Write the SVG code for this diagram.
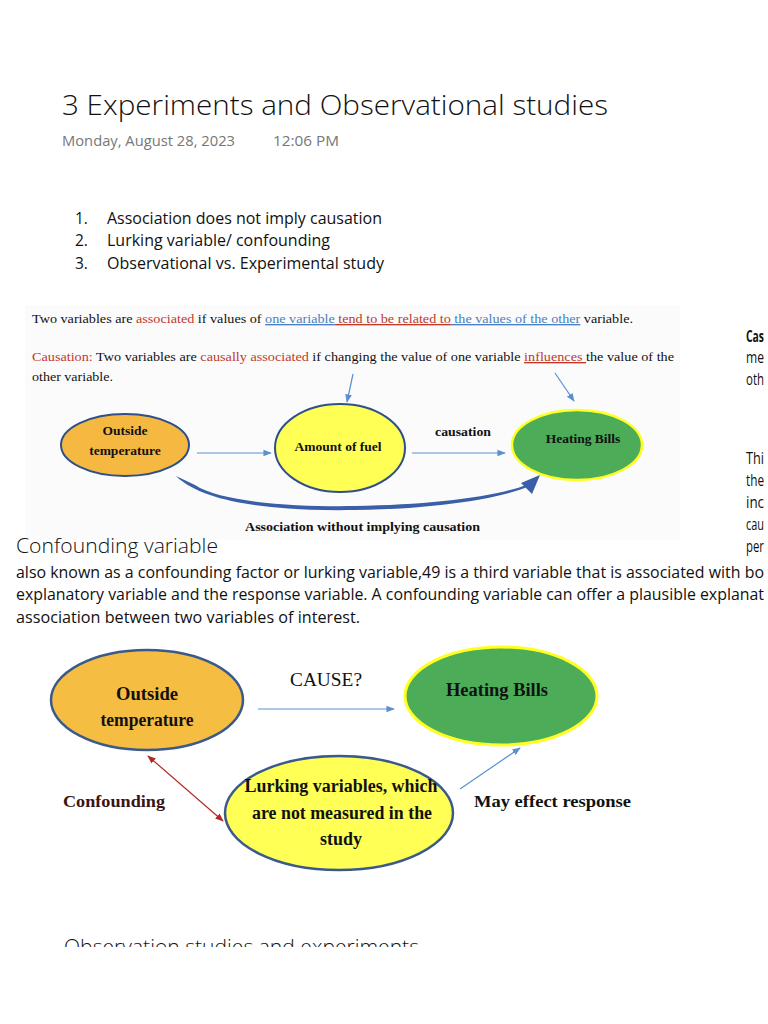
<svg xmlns="http://www.w3.org/2000/svg" width="768" height="1024" viewBox="0 0 768 1024">
<style>
.cal{font-family:"Open Sans","Noto Sans","Liberation Sans",sans-serif;fill:#111}
.tnr{font-family:"Liberation Serif","Times New Roman",serif;fill:#111}
.b{font-weight:bold}
.red{fill:#c0392b}
.blu{fill:#4a7fc1}
.u{text-decoration:underline}
.edge{stroke:#5b8fd0;stroke-width:1.2;fill:none}
</style>
<defs>
<marker id="ah" viewBox="0 0 10 10" refX="9" refY="5" markerWidth="7" markerHeight="7" orient="auto-start-reverse"><path d="M0,1 L10,5 L0,9 Z" fill="#5b8fd0"/></marker>
<marker id="ahr" viewBox="0 0 10 10" refX="9" refY="5" markerWidth="7" markerHeight="7" orient="auto-start-reverse"><path d="M0,1 L10,5 L0,9 Z" fill="#b5281f"/></marker>
<clipPath id="clipb"><rect x="0" y="0" width="768" height="947"/></clipPath>
</defs>
<rect width="768" height="1024" fill="#fff"/>

<g id="header">
<text class="cal" x="62" y="115" font-size="28" font-weight="300" textLength="546" lengthAdjust="spacingAndGlyphs">3 Experiments and Observational studies</text>
<text class="cal" x="62" y="146" font-size="14.5" style="fill:#777" textLength="173" lengthAdjust="spacingAndGlyphs">Monday, August 28, 2023</text>
<text class="cal" x="273" y="146" font-size="14.5" style="fill:#777" textLength="66" lengthAdjust="spacingAndGlyphs">12:06 PM</text>
<text class="cal" x="75" y="224" font-size="15.5">1.</text>
<text class="cal" x="107" y="224" font-size="15.5" textLength="275" lengthAdjust="spacingAndGlyphs">Association does not imply causation</text>
<text class="cal" x="75" y="246" font-size="15.5">2.</text>
<text class="cal" x="107" y="246" font-size="15.5" textLength="223" lengthAdjust="spacingAndGlyphs">Lurking variable/ confounding</text>
<text class="cal" x="75" y="269" font-size="15.5">3.</text>
<text class="cal" x="107" y="269" font-size="15.5" textLength="277" lengthAdjust="spacingAndGlyphs">Observational vs. Experimental study</text>
</g>

<g id="right-column" class="cal" font-size="15.5">
<text x="746" y="342" class="b" textLength="18" lengthAdjust="spacingAndGlyphs">Cas</text>
<text x="746" y="363" textLength="18" lengthAdjust="spacingAndGlyphs">me</text>
<text x="746" y="385" textLength="18" lengthAdjust="spacingAndGlyphs">oth</text>
<text x="746" y="464" textLength="18" lengthAdjust="spacingAndGlyphs">Thi</text>
<text x="746" y="486" textLength="18" lengthAdjust="spacingAndGlyphs">the</text>
<text x="746" y="508" textLength="18" lengthAdjust="spacingAndGlyphs">inc</text>
<text x="746" y="530" textLength="18" lengthAdjust="spacingAndGlyphs">cau</text>
<text x="746" y="552" textLength="18" lengthAdjust="spacingAndGlyphs">per</text>
</g>

<g id="figure1-text">
<rect x="25" y="305" width="655" height="235" fill="#fbfbfb"/>
<text class="tnr" x="32" y="323" font-size="13.5" textLength="601" lengthAdjust="spacingAndGlyphs">Two variables are <tspan class="red">associated</tspan> if values of <tspan class="blu u">one variable</tspan><tspan class="red u"> tend to be related to</tspan><tspan class="blu u"> the values of the other</tspan> variable.</text>
<text class="tnr" x="32" y="361" font-size="13.5" textLength="642" lengthAdjust="spacingAndGlyphs"><tspan class="red">Causation:</tspan> Two variables are <tspan class="red">causally associated</tspan> if changing the value of one variable <tspan class="red u">influences </tspan>the value of the</text>
<text class="tnr" x="32" y="381" font-size="13.5" textLength="81" lengthAdjust="spacingAndGlyphs">other variable.</text>
</g>

<g id="n1-outside">
<ellipse cx="125" cy="445" rx="64" ry="31" fill="#f5b942" stroke="#2f4f8a" stroke-width="2"/>
<text class="tnr b" x="125" y="435" font-size="13.5" text-anchor="middle">Outside</text>
<text class="tnr b" x="125" y="455" font-size="13.5" text-anchor="middle">temperature</text>
</g>
<g id="n1-fuel">
<ellipse cx="340" cy="448" rx="65" ry="44" fill="#ffff55" stroke="#2f4f8a" stroke-width="2"/>
<text class="tnr b" x="338" y="451" font-size="13.5" text-anchor="middle">Amount of fuel</text>
</g>
<g id="n1-bills">
<ellipse cx="577" cy="445" rx="65" ry="35" fill="#4cac58" stroke="#ffff22" stroke-width="2.5"/>
<text class="tnr b" x="583" y="443" font-size="13.5" text-anchor="middle">Heating Bills</text>
</g>

<g id="connectors1">
<line class="edge" x1="353" y1="374" x2="347" y2="402" marker-end="url(#ah)"/>
<line class="edge" x1="555" y1="373" x2="574" y2="401" marker-end="url(#ah)"/>
<line class="edge" x1="197" y1="453" x2="271" y2="453" marker-end="url(#ah)"/>
<line class="edge" x1="412" y1="453" x2="505" y2="453" marker-end="url(#ah)"/>
<path d="M176,476 C208,508 300,511 355,510 C430,509 495,500 527,487 L526,485 C495,497 430,505 355,506 C300,507 222,503 195,485 Z" fill="#3a5ea8"/>
<path d="M540,475 L521,483 L532,494 Z" fill="#3a5ea8"/>
<text class="tnr b" x="435" y="436" font-size="13" textLength="56" lengthAdjust="spacingAndGlyphs">causation</text>
<text class="tnr b" x="245" y="531" font-size="13" textLength="235" lengthAdjust="spacingAndGlyphs">Association without implying causation</text>
</g>

<g id="confounding-text">
<text class="cal" x="16" y="553" font-size="21" font-weight="300" textLength="202" lengthAdjust="spacingAndGlyphs">Confounding variable</text>
<text class="cal" x="16" y="578" font-size="15.5" textLength="748" lengthAdjust="spacingAndGlyphs">also known as a confounding factor or lurking variable,49 is a third variable that is associated with bo</text>
<text class="cal" x="16" y="600" font-size="15.5" textLength="748" lengthAdjust="spacingAndGlyphs">explanatory variable and the response variable. A confounding variable can offer a plausible explanat</text>
<text class="cal" x="16" y="623" font-size="15.5" textLength="344" lengthAdjust="spacingAndGlyphs">association between two variables of interest.</text>
</g>

<g id="n2-outside">
<ellipse cx="147" cy="700" rx="96" ry="50" fill="#f5bd41" stroke="#3a5a8c" stroke-width="2.5"/>
<text class="tnr b" x="147" y="700" font-size="18" text-anchor="middle" textLength="62" lengthAdjust="spacingAndGlyphs">Outside</text>
<text class="tnr b" x="147" y="726" font-size="18" text-anchor="middle" textLength="93" lengthAdjust="spacingAndGlyphs">temperature</text>
</g>
<g id="n2-bills">
<ellipse cx="501" cy="696" rx="96" ry="49" fill="#4cac58" stroke="#ffff22" stroke-width="3"/>
<text class="tnr b" x="497" y="696" font-size="18" text-anchor="middle" textLength="102" lengthAdjust="spacingAndGlyphs">Heating Bills</text>
</g>
<g id="n2-lurking">
<ellipse cx="339" cy="813" rx="114" ry="57" fill="#ffff55" stroke="#3a5a8c" stroke-width="2.5"/>
<text class="tnr b" x="341" y="792" font-size="18" text-anchor="middle" textLength="193" lengthAdjust="spacingAndGlyphs">Lurking variables, which</text>
<text class="tnr b" x="342" y="819" font-size="18" text-anchor="middle" textLength="180" lengthAdjust="spacingAndGlyphs">are not measured in the</text>
<text class="tnr b" x="341" y="845" font-size="18" text-anchor="middle" textLength="42" lengthAdjust="spacingAndGlyphs">study</text>
</g>

<g id="connectors2">
<line class="edge" x1="258" y1="709" x2="394" y2="709" marker-end="url(#ah)"/>
<line x1="148" y1="756" x2="223" y2="821" stroke="#b5281f" stroke-width="1.2" marker-start="url(#ahr)" marker-end="url(#ahr)"/>
<line class="edge" x1="460" y1="789" x2="520" y2="748" marker-end="url(#ah)"/>
<text class="tnr" x="290" y="686" font-size="18" textLength="72" lengthAdjust="spacingAndGlyphs">CAUSE?</text>
<text class="tnr b" x="63" y="807" font-size="17" style="fill:#3a1414" textLength="102" lengthAdjust="spacingAndGlyphs">Confounding</text>
<text class="tnr b" x="474" y="807" font-size="17" textLength="157" lengthAdjust="spacingAndGlyphs">May effect response</text>
</g>

<g id="bottom" clip-path="url(#clipb)">
<text class="cal" x="64" y="954" font-size="20" font-weight="300" textLength="355" lengthAdjust="spacingAndGlyphs">Observation studies and experiments</text>
</g>
</svg>
